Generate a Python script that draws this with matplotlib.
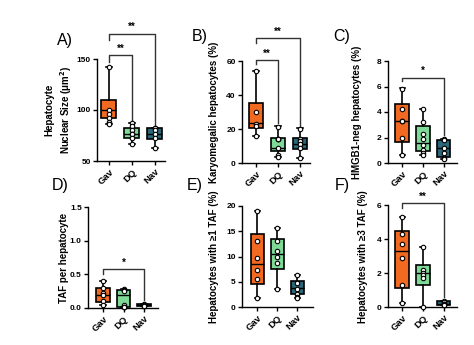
import numpy as np
import matplotlib
matplotlib.use('Agg')
import matplotlib.pyplot as plt

plt.rcParams['font.family'] = ['Liberation Sans', 'DejaVu Sans']
plt.rcParams['font.weight'] = 'bold'

groups = ['Gav', 'DQ', 'Nav']
colors = ['#F26A21', '#7FDA98', '#2B6679']

# box stats per panel: (whislo, q1, med, q3, whishi) for Gav, DQ, Nav
stats_a = [(86, 92, 100, 110, 142), (67, 73, 76, 82, 87), (63, 72, 76, 82, 82)]
stats_b = [(16, 20.6, 23.5, 35.3, 54), (3.5, 7, 9, 14.7, 21.8), (3, 8, 11, 14.7, 20.6)]
stats_c = [(0.6, 1.65, 3.3, 4.6, 5.85), (0.6, 0.95, 1.6, 2.9, 4.2), (0.35, 0.45, 1.2, 1.8, 1.9)]
stats_d = [(0.05, 0.09, 0.19, 0.30, 0.40), (0.02, 0.02, 0.2, 0.27, 0.28), (0.03, 0.03, 0.04, 0.06, 0.06)]
stats_e = [(1.8, 4.6, 8.5, 14.4, 19.1), (3.5, 7.5, 10.5, 13.5, 15.6), (1.7, 2.5, 3.8, 5.2, 6.4)]
stats_f = [(0.25, 1.1, 3.3, 4.5, 5.3), (0.0, 1.3, 2.0, 2.5, 3.55), (0.1, 0.1, 0.2, 0.35, 0.35)]

# individual animals
pts_a = [[142, 100, 96, 92, 88, 86], [87, 84, 80, 76, 76, 73, 67], [82, 82, 80, 76, 73, 63]]
pts_b = [[54, 30, 23, 22, 16], [21, 14, 14, 14, 9, 5, 3.5], [20, 14, 13, 11, 9, 3]]
pts_c = [[5.8, 4.2, 3.3, 3.3, 2.0, 0.6], [4.2, 3.2, 2.3, 1.9, 1.4, 1.0, 0.8, 0.6],
         [1.9, 1.8, 1.2, 0.8, 0.4, 0.35]]
pts_d = [[0.40, 0.30, 0.22, 0.20, 0.10, 0.05], [0.28, 0.27, 0.26, 0.25, 0.05, 0.02, 0.02],
         [0.06, 0.05, 0.05, 0.04, 0.03, 0.03]]
pts_e = [[19, 13, 9.8, 7.3, 5.5, 1.8], [15.6, 13, 11, 10, 8.7, 3.5], [6.4, 4.8, 3.5, 2.5, 2.0, 1.7]]
pts_f = [[5.3, 4.3, 3.7, 2.9, 1.3, 0.25], [3.55, 2.2, 2.0, 1.9, 1.7, 0.0], [0.35, 0.3, 0.2, 0.15, 0.1, 0.1]]

# significance brackets: (i, j, y, left drop, right drop, label)
sig_a = [(0, 1, 154, 147, 84, '**'), (0, 2, 175, 169, 82, '**')]
sig_b = [(0, 1, 60.5, 58.5, 23.5, '**'), (0, 2, 73.5, 70.5, 21, '**')]
sig_c = [(0, 2, 6.7, 6.4, 2.2, '*')]
sig_d = [(0, 2, 0.58, 0.51, 0.12, '*')]
sig_f = [(0, 2, 6.1, 5.85, 0.6, '**')]

panels = [
    # letter, rect(px), stats, pts, ylim, yticks, ytick labels, ylabel, label coords, sig, xlim, letter pos
    ('A)', [97, 59, 165, 161], stats_a, pts_a, (50, 150), [50, 100, 150], None,
     'Hepatocyte\nNuclear Size (μm$^\\mathbf{2}$)', (-0.34, 0.5), sig_a, (-0.52, 2.45), (65, 40)),
    ('B)', [242, 61, 310, 163], stats_b, pts_b, (0, 60), [0, 20, 40, 60], None,
     'Karyomegalic hepatocytes (%)', (-0.34, 0.5), sig_b, (-0.64, 2.45), (200, 36)),
    ('C)', [388, 61, 457, 163], stats_c, pts_c, (0, 8), [0, 2, 4, 6, 8], None,
     'HMGB1-neg hepatocytes (%)', (-0.37, 0.5), sig_c, (-0.68, 2.65), (342, 37)),
    ('D)', [88, 207, 158, 308], stats_d, pts_d, (0, 1.5), [0, 0.5, 1.0, 1.5], ['0.0', '0.5', '1.0', '1.5'],
     'TAF per hepatocyte', (-0.27, 0.5), sig_d, (-0.73, 2.68), (60, 185)),
    ('E)', [242, 206, 313, 307], stats_e, pts_e, (0, 20), [0, 5, 10, 15, 20], None,
     'Hepatocytes with ≥1 TAF (%)', (-0.33, 0.5), None, (-0.75, 2.8), (195, 185)),
    ('F)', [388, 205, 457, 307], stats_f, pts_f, (0, 6), [0, 2, 4, 6], None,
     'Hepatocytes with ≥3 TAF (%)', (-0.29, 0.49), sig_f, (-0.68, 2.65), (342, 185)),
]

W, H = 474, 345
fig = plt.figure(figsize=(W / 100, H / 100), dpi=100)

for (letter, r, st, pts, ylim, yt, ytl, ylab, lc, sig, xlim, lp) in panels:
    ax = fig.add_axes([r[0] / W, 1 - r[3] / H, (r[2] - r[0]) / W, (r[3] - r[1]) / H])
    bstats = [dict(whislo=s[0], q1=s[1], med=s[2], q3=s[3], whishi=s[4], fliers=[]) for s in st]
    bp = ax.bxp(bstats, positions=range(3), widths=0.65, patch_artist=True, showfliers=False,
                boxprops=dict(linewidth=1.2, edgecolor='black'),
                medianprops=dict(color='black', linewidth=1.0),
                whiskerprops=dict(color='black', linewidth=1.2),
                capprops=dict(color='black', linewidth=1.2), capwidths=0.25)
    for patch, c in zip(bp['boxes'], colors):
        patch.set_facecolor(c)
    for i, p in enumerate(pts):
        ax.plot(np.full(len(p), i), p, 'o', ms=3.2, mfc='white', mec='black', mew=0.8,
                zorder=5, clip_on=False)
    ax.set_ylim(*ylim)
    ax.set_xlim(*xlim)
    ax.set_yticks(yt)
    if ytl:
        ax.set_yticklabels(ytl)
    ax.set_xticks(range(3))
    ax.set_xticklabels(groups, rotation=45, ha='right', rotation_mode='anchor')
    ax.tick_params(labelsize=6, width=1, length=3, pad=1.5, colors='black')
    for lab in ax.get_xticklabels():
        lab.set_fontsize(6.8)
    ax.spines['top'].set_visible(False)
    ax.spines['right'].set_visible(False)
    ax.spines['left'].set_linewidth(1)
    ax.spines['bottom'].set_linewidth(1)
    ax.set_ylabel(ylab, fontsize=7, fontweight='bold', linespacing=1.3)
    ax.yaxis.set_label_coords(*lc)
    if sig:
        for (i, j, y, dl, dr, s) in sig:
            ax.plot([i, i, j, j], [dl, y, y, dr], color='#333333', lw=1.0, clip_on=False)
            ax.text((i + j) / 2, y + (ylim[1] - ylim[0]) * 0.015, s, ha='center', va='bottom',
                    fontsize=7, fontweight='bold')
    fig.text(lp[0] / W, 1 - lp[1] / H, letter, fontsize=11.5, fontweight='normal', ha='center', va='center')

fig.savefig('out.png', dpi=100)
